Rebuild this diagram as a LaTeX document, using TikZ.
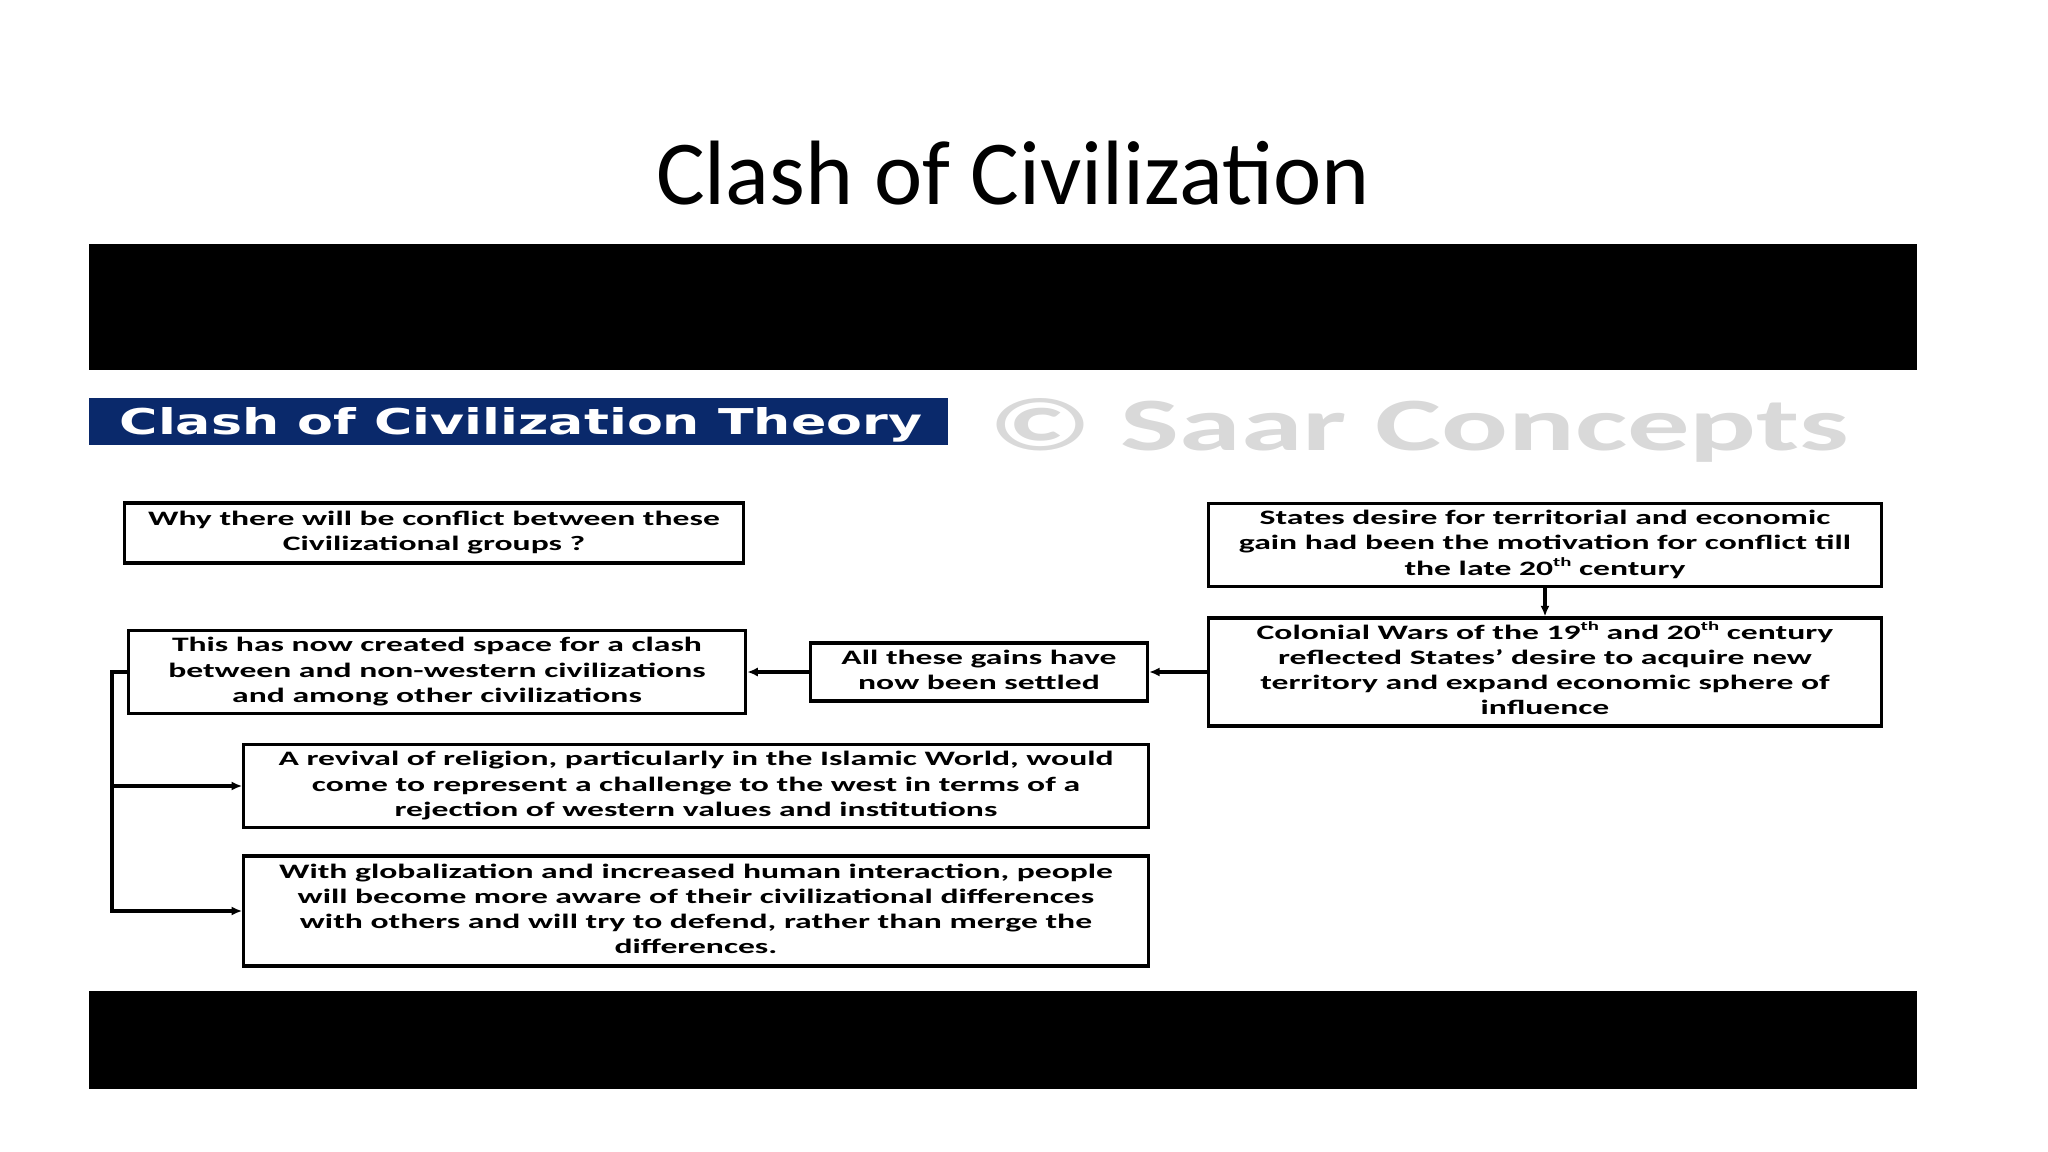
\documentclass[tikz,border=0pt]{standalone}
\usepackage{fontspec}
\usepackage{graphicx}
\usepackage{tikz}
\setmainfont{Carlito}
\newfontfamily\headfont{DejaVu Sans}
\definecolor{HeadBlue}{rgb}{0.04,0.16,0.42}
\definecolor{MarkGray}{rgb}{0.85,0.85,0.85}
\usetikzlibrary{arrows.meta}
\newcommand{\boxfont}{\bfseries\fontsize{5.83pt}{7.11pt}\selectfont}
\newcommand{\boxtext}[1]{\scalebox{1.64}[1]{\renewcommand{\arraystretch}{1}\begin{tabular}{@{}c@{}}#1\end{tabular}}}
\newcommand{\supth}{\raisebox{0.42em}{\fontsize{3.6pt}{4pt}\selectfont th}}
\tikzset{
  diabox/.style={draw=black, line width=0.9pt, inner sep=0pt, font=\boxfont},
  arr/.style={line width=0.9pt, -{Latex[length=3pt,width=2.6pt]}},
  band/.style={fill=black}
}

\begin{document}
\begin{tikzpicture}[x=0.01cm,y=-0.01cm]
\useasboundingbox (0,0) rectangle (2048,1152);
%%slide title
\node (title) [anchor=base, font=\fontsize{26pt}{30pt}\selectfont] at (1013,205) {Clash of Civilization};
%%black bands
\fill[band] (89,244) rectangle (1917,370);
\fill[band] (89,991) rectangle (1917,1089);
%%heading
\fill[HeadBlue] (89,398) rectangle (948,445);
\node (head) [anchor=base west, inner sep=0pt, text=white] at (119,435) {\resizebox{8.02cm}{0.27cm}{\headfont\bfseries Clash of Civilization Theory}};
\node (mark) [anchor=base west, inner sep=0pt, text=MarkGray] at (988,451) {\resizebox{8.6cm}{0.52cm}{\bfseries \textcopyright{} Saar Concepts}};

%%boxes
\node (why) [diabox, minimum width=6.18cm, minimum height=0.60cm] at (434,533)
  {\boxtext{Why there will be conflict between these\\Civilizational groups ?}};
\node (states) [diabox, minimum width=6.73cm, minimum height=0.83cm] at (1545,545)
  {\boxtext{States desire for territorial and economic\\gain had been the motivation for conflict till\\the late 20\supth{} century}};
\node (colonial) [diabox, minimum width=6.73cm, minimum height=1.08cm] at (1545,672)
  {\boxtext{Colonial Wars of the 19\supth{} and 20\supth{} century\\reflected States’ desire to acquire new\\territory and expand economic sphere of\\influence}};
\node (gains) [diabox, minimum width=3.37cm, minimum height=0.58cm] at (979,672)
  {\boxtext{All these gains have\\now been settled}};
\node (space) [diabox, minimum width=6.17cm, minimum height=0.83cm] at (437,672)
  {\boxtext{This has now created space for a clash\\between and non-western civilizations\\and among other civilizations}};
\node (revival) [diabox, minimum width=9.04cm, minimum height=0.83cm] at (696,786)
  {\boxtext{A revival of religion, particularly in the Islamic World, would\\come to represent a challenge to the west in terms of a\\rejection of western values and institutions}};
\node (global) [diabox, minimum width=9.04cm, minimum height=1.10cm] at (696,911)
  {\boxtext{With globalization and increased human interaction, people\\will become more aware of their civilizational differences\\with others and will try to defend, rather than merge the\\differences.}};

%%connectors
\coordinate (brk) at (112,672);
\draw[arr] (states) -- (colonial);
\draw[arr] (colonial) -- (gains);
\draw[arr] (gains) -- (space);
\draw[arr] (space.west) -- (brk) |- (revival.west);
\draw[arr] (brk) |- (global.west);
\end{tikzpicture}
\end{document}
